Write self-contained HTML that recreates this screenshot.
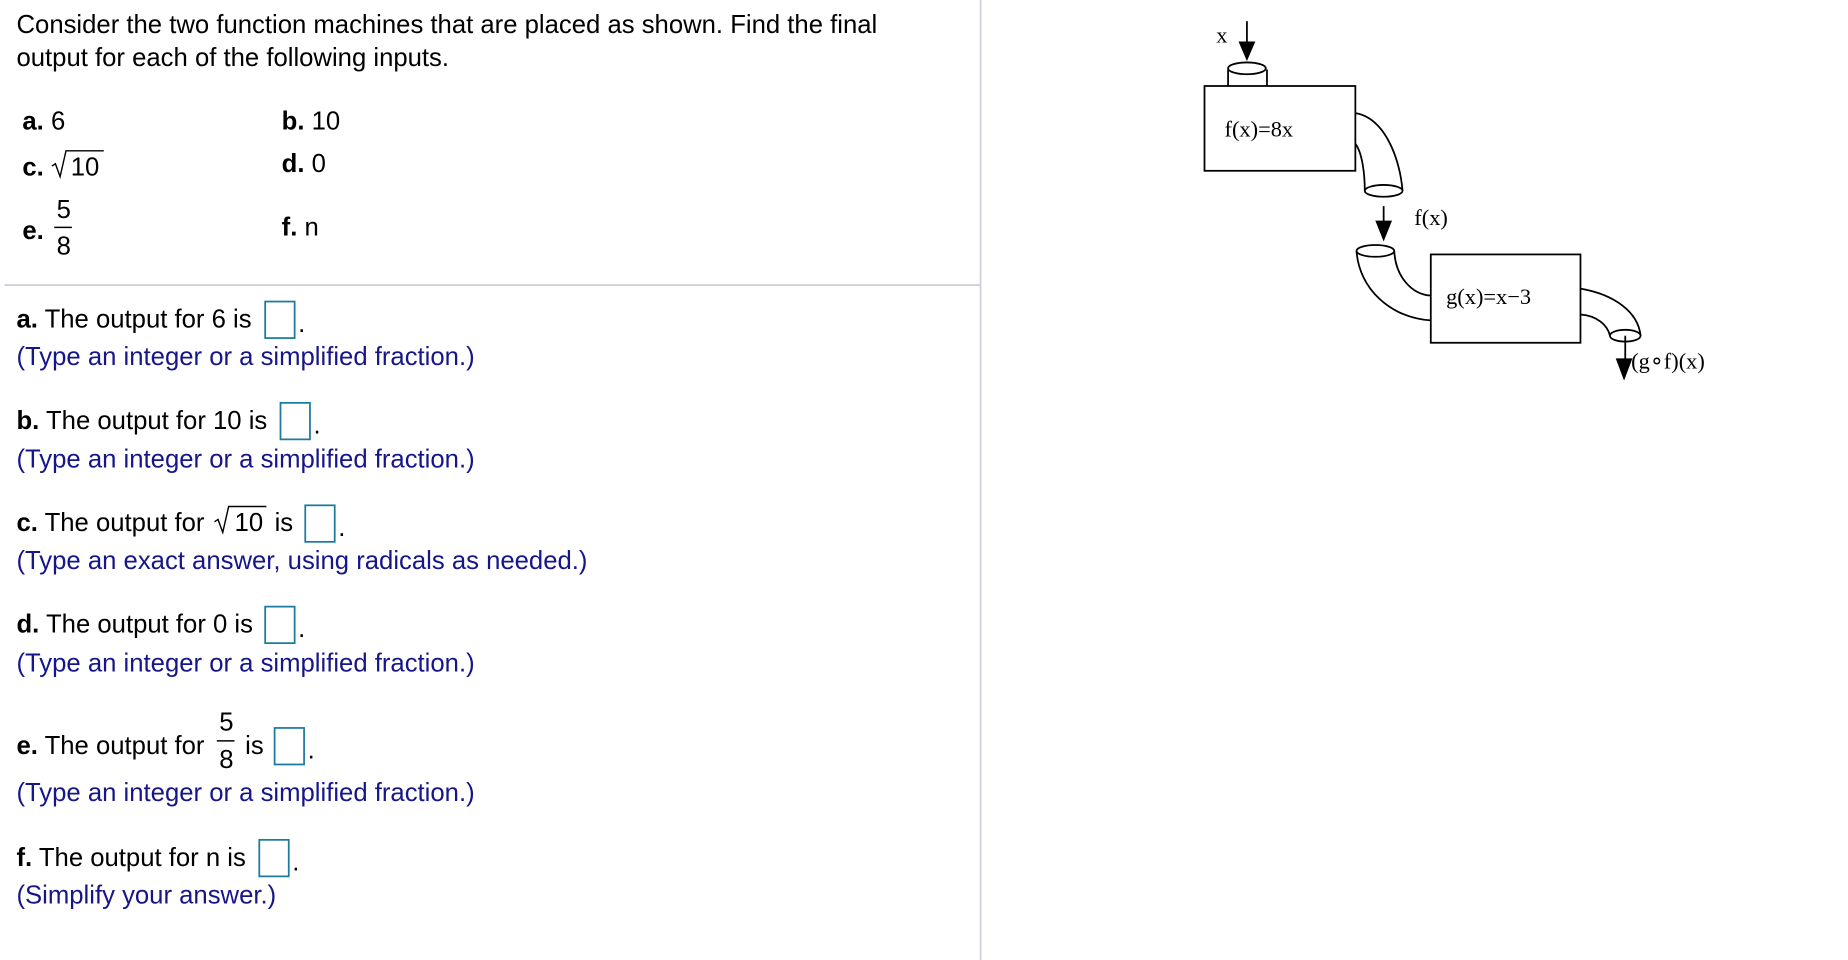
<!DOCTYPE html>
<html><head><meta charset="utf-8"><style>
html,body{margin:0;padding:0;background:#fff;width:1848px;height:960px;overflow:hidden}
svg{display:block}
text{font-family:"Liberation Sans",Arial,sans-serif;font-size:21.8px;fill:#000}
.b{font-weight:bold}
.h{fill:#16168a}
.s{font-family:"Liberation Serif","Times New Roman",serif;font-size:19px}
</style></head><body>
<svg width="1848" height="960" viewBox="0 0 1568 815" preserveAspectRatio="none">
<line x1="4" y1="242" x2="832" y2="242" stroke="#cdd0dc" stroke-width="1.5"/>
<line x1="832" y1="0" x2="832" y2="815" stroke="#cdd0dc" stroke-width="1.5"/>
<text x="14" y="28">Consider the two function machines that are placed as shown. Find the final</text>
<text x="14" y="56">output for each of the following inputs.</text>
<text x="19" y="110"><tspan class="b">a.</tspan> 6</text>
<text x="239" y="110"><tspan class="b">b.</tspan> 10</text>
<text x="19" y="149"><tspan class="b">c.</tspan></text>
<path d="M44 141 l3 -2 l4 11 l5 -22 h32" fill="none" stroke="#000" stroke-width="1.2"/>
<text x="60" y="149">10</text>
<text x="239" y="146"><tspan class="b">d.</tspan> 0</text>
<text x="19" y="203"><tspan class="b">e.</tspan></text>
<text x="48" y="185">5</text><line x1="46" y1="193" x2="61" y2="193" stroke="#000" stroke-width="1.3"/><text x="48" y="216">8</text>
<text x="239" y="200"><tspan class="b">f.</tspan> n</text>

<text x="14" y="278"><tspan class="b">a.</tspan> The output for 6 is</text>
<rect x="225" y="256" width="25" height="31" fill="none" stroke="#1e7ba0" stroke-width="1.5"/><text x="253" y="282">.</text>
<text class="h" x="14" y="310">(Type an integer or a simplified fraction.)</text>

<text x="14" y="364"><tspan class="b">b.</tspan> The output for 10 is</text>
<rect x="238" y="342" width="25" height="31" fill="none" stroke="#1e7ba0" stroke-width="1.5"/><text x="266" y="368">.</text>
<text class="h" x="14" y="397">(Type an integer or a simplified fraction.)</text>

<text x="14" y="451"><tspan class="b">c.</tspan> The output for</text>
<path d="M182 443 l3 -2 l4 11 l5 -22 h32" fill="none" stroke="#000" stroke-width="1.2"/>
<text x="199" y="451">10</text><text x="233" y="451">is</text>
<rect x="259" y="429" width="25" height="31" fill="none" stroke="#1e7ba0" stroke-width="1.5"/><text x="287" y="455">.</text>
<text class="h" x="14" y="483">(Type an exact answer, using radicals as needed.)</text>

<text x="14" y="537"><tspan class="b">d.</tspan> The output for 0 is</text>
<rect x="225" y="515" width="25" height="31" fill="none" stroke="#1e7ba0" stroke-width="1.5"/><text x="253" y="541">.</text>
<text class="h" x="14" y="570">(Type an integer or a simplified fraction.)</text>

<text x="14" y="640"><tspan class="b">e.</tspan> The output for</text>
<text x="186" y="620">5</text><line x1="184" y1="629" x2="199" y2="629" stroke="#000" stroke-width="1.3"/><text x="186" y="652">8</text>
<text x="208" y="640">is</text>
<rect x="233" y="618" width="25" height="31" fill="none" stroke="#1e7ba0" stroke-width="1.5"/><text x="261" y="644">.</text>
<text class="h" x="14" y="680">(Type an integer or a simplified fraction.)</text>

<text x="14" y="735"><tspan class="b">f.</tspan> The output for n is</text>
<rect x="220" y="713" width="25" height="31" fill="none" stroke="#1e7ba0" stroke-width="1.5"/><text x="248" y="739">.</text>
<text class="h" x="14" y="767">(Simplify your answer.)</text>

<g fill="none" stroke="#000" stroke-width="1.5">
<text class="s" x="1032" y="36" stroke="none">x</text>
<line x1="1058" y1="18" x2="1058" y2="40"/>
<path d="M1052 36 L1058 50 L1064 36 Z" fill="#000"/>
<line x1="1042" y1="59" x2="1042" y2="73"/><line x1="1075" y1="59" x2="1075" y2="73"/>
<ellipse cx="1058" cy="58" rx="16" ry="5" fill="#fff"/>
<rect x="1022" y="73" width="128" height="72"/>
<text class="s" x="1039" y="116" stroke="none">f(x)=8x</text>
<path d="M1150 96 C1175 100 1188 135 1190 162"/>
<path d="M1150 122 C1156 130 1158 148 1158 162"/>
<ellipse cx="1174" cy="162" rx="16" ry="5" fill="#fff"/>
<line x1="1174" y1="175" x2="1174" y2="192"/>
<path d="M1168 188 L1174 203 L1180 188 Z" fill="#000"/>
<text class="s" x="1200" y="191" stroke="none">f(x)</text>
<path d="M1151 213 C1153 245 1180 270 1214 272"/>
<path d="M1183 213 C1184 235 1198 250 1214 251"/>
<ellipse cx="1167" cy="213" rx="16" ry="5" fill="#fff"/>
<rect x="1214" y="216" width="127" height="75"/>
<text class="s" x="1227" y="258" stroke="none">g(x)=x−3</text>
<path d="M1341 245 C1370 250 1390 265 1392 285"/>
<path d="M1341 267 C1355 268 1364 276 1366 285"/>
<ellipse cx="1379" cy="285" rx="13" ry="5" fill="#fff"/>
<line x1="1379" y1="285" x2="1379" y2="310"/>
<path d="M1372 305 L1378 321 L1384 305 Z" fill="#000"/>
<text class="s" x="1384" y="313" stroke="none">(g∘f)(x)</text>
</g>
</svg>
</body></html>
